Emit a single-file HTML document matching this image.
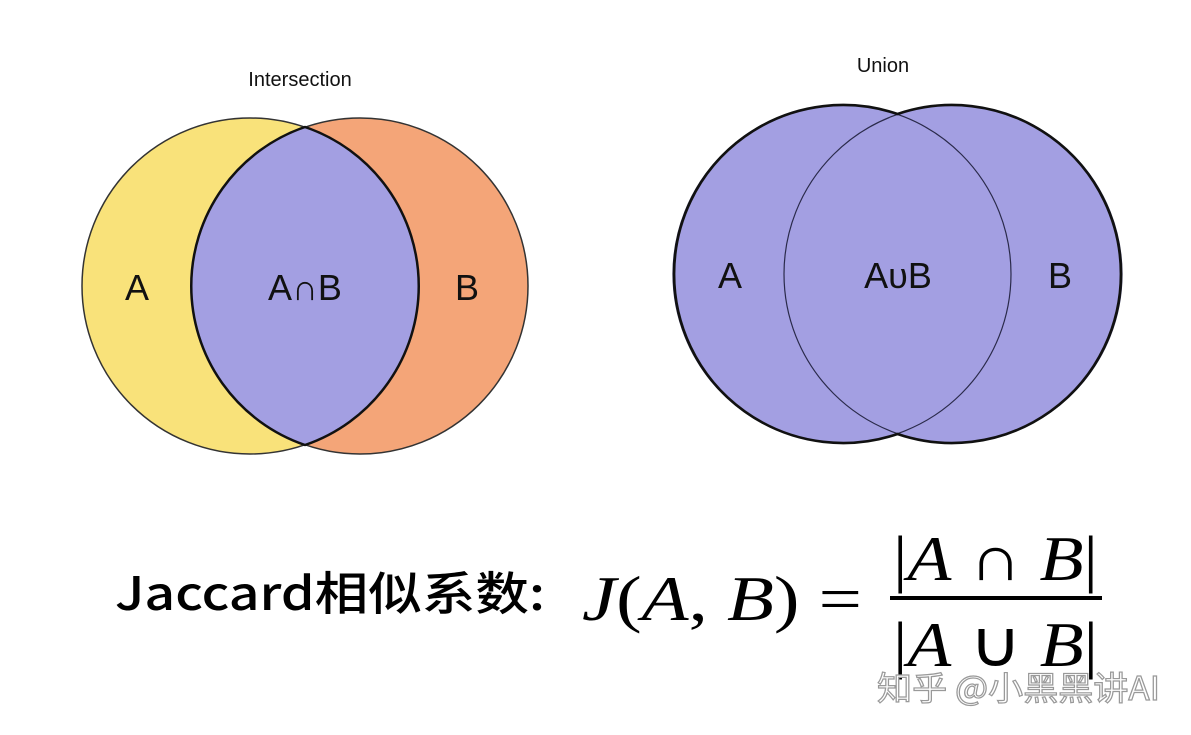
<!DOCTYPE html>
<html><head><meta charset="utf-8"><style>html,body{margin:0;padding:0;background:#fff;}svg{display:block}</style></head>
<body>
<svg width="1191" height="735" viewBox="0 0 1191 735" xmlns="http://www.w3.org/2000/svg">
<defs>
<clipPath id="ca"><circle cx="250" cy="286" r="168"/></clipPath>
</defs>
<text x="300" y="86" font-family="Liberation Sans, sans-serif" font-size="20" text-anchor="middle" fill="#111">Intersection</text>
<circle cx="250" cy="286" r="168" fill="#F9E27A" stroke="#333" stroke-width="1.5"/>
<circle cx="360" cy="286" r="168" fill="#F4A578" stroke="#333" stroke-width="1.5"/>
<circle cx="360" cy="286" r="168" fill="#A39FE2" clip-path="url(#ca)"/>
<path d="M305,127 A168,168 0 0 1 305,445 A168,168 0 0 1 305,127 Z" fill="none" stroke="#111" stroke-width="2.5"/>
<g font-family="Liberation Sans, sans-serif" font-size="36" fill="#111" text-anchor="middle">
<text x="137" y="300">A</text>
<text x="305" y="300">A∩B</text>
<text x="467" y="300">B</text>
</g>
<text x="883" y="72" font-family="Liberation Sans, sans-serif" font-size="20" text-anchor="middle" fill="#111">Union</text>
<circle cx="842" cy="274" r="169" fill="#A39FE2"/>
<circle cx="953" cy="274" r="169" fill="#A39FE2"/>
<circle cx="842" cy="274" r="169" fill="none" stroke="#2a2a4a" stroke-width="1.2"/>
<circle cx="953" cy="274" r="169" fill="none" stroke="#2a2a4a" stroke-width="1.2"/>
<path d="M897.5,114 A169,169 0 1 0 897.5,434 A169,169 0 1 0 897.5,114 Z" fill="none" stroke="#111" stroke-width="2.6"/>
<g font-family="Liberation Sans, sans-serif" font-size="36" fill="#111" text-anchor="middle">
<text x="730" y="288">A</text>
<text x="898" y="288">AᴜB</text>
<text x="1060" y="288">B</text>
</g>
<text x="115" y="610" font-family="'Noto Sans CJK SC', sans-serif" font-weight="500" font-size="46" fill="#000" textLength="430" lengthAdjust="spacingAndGlyphs">Jaccard相似系数:</text>
<g font-family="Liberation Serif, serif" font-size="64" fill="#000">
<text x="582" y="620" textLength="280" lengthAdjust="spacingAndGlyphs"><tspan font-style="italic">J</tspan>(<tspan font-style="italic">A</tspan>, <tspan font-style="italic">B</tspan>) =</text>
<rect x="890" y="596" width="212" height="4"/>
<text x="893" y="580" textLength="205" lengthAdjust="spacingAndGlyphs">|<tspan font-style="italic">A</tspan> ∩ <tspan font-style="italic">B</tspan>|</text>
<text x="893" y="666" textLength="205" lengthAdjust="spacingAndGlyphs">|<tspan font-style="italic">A</tspan> ∪ <tspan font-style="italic">B</tspan>|</text>
</g>
<text x="877" y="700" font-family="'Noto Sans CJK SC', sans-serif" font-size="33" fill="#fff" stroke="#999" stroke-width="1.2" textLength="283" lengthAdjust="spacingAndGlyphs">知乎 @小黑黑讲AI</text>
</svg>
</body></html>
